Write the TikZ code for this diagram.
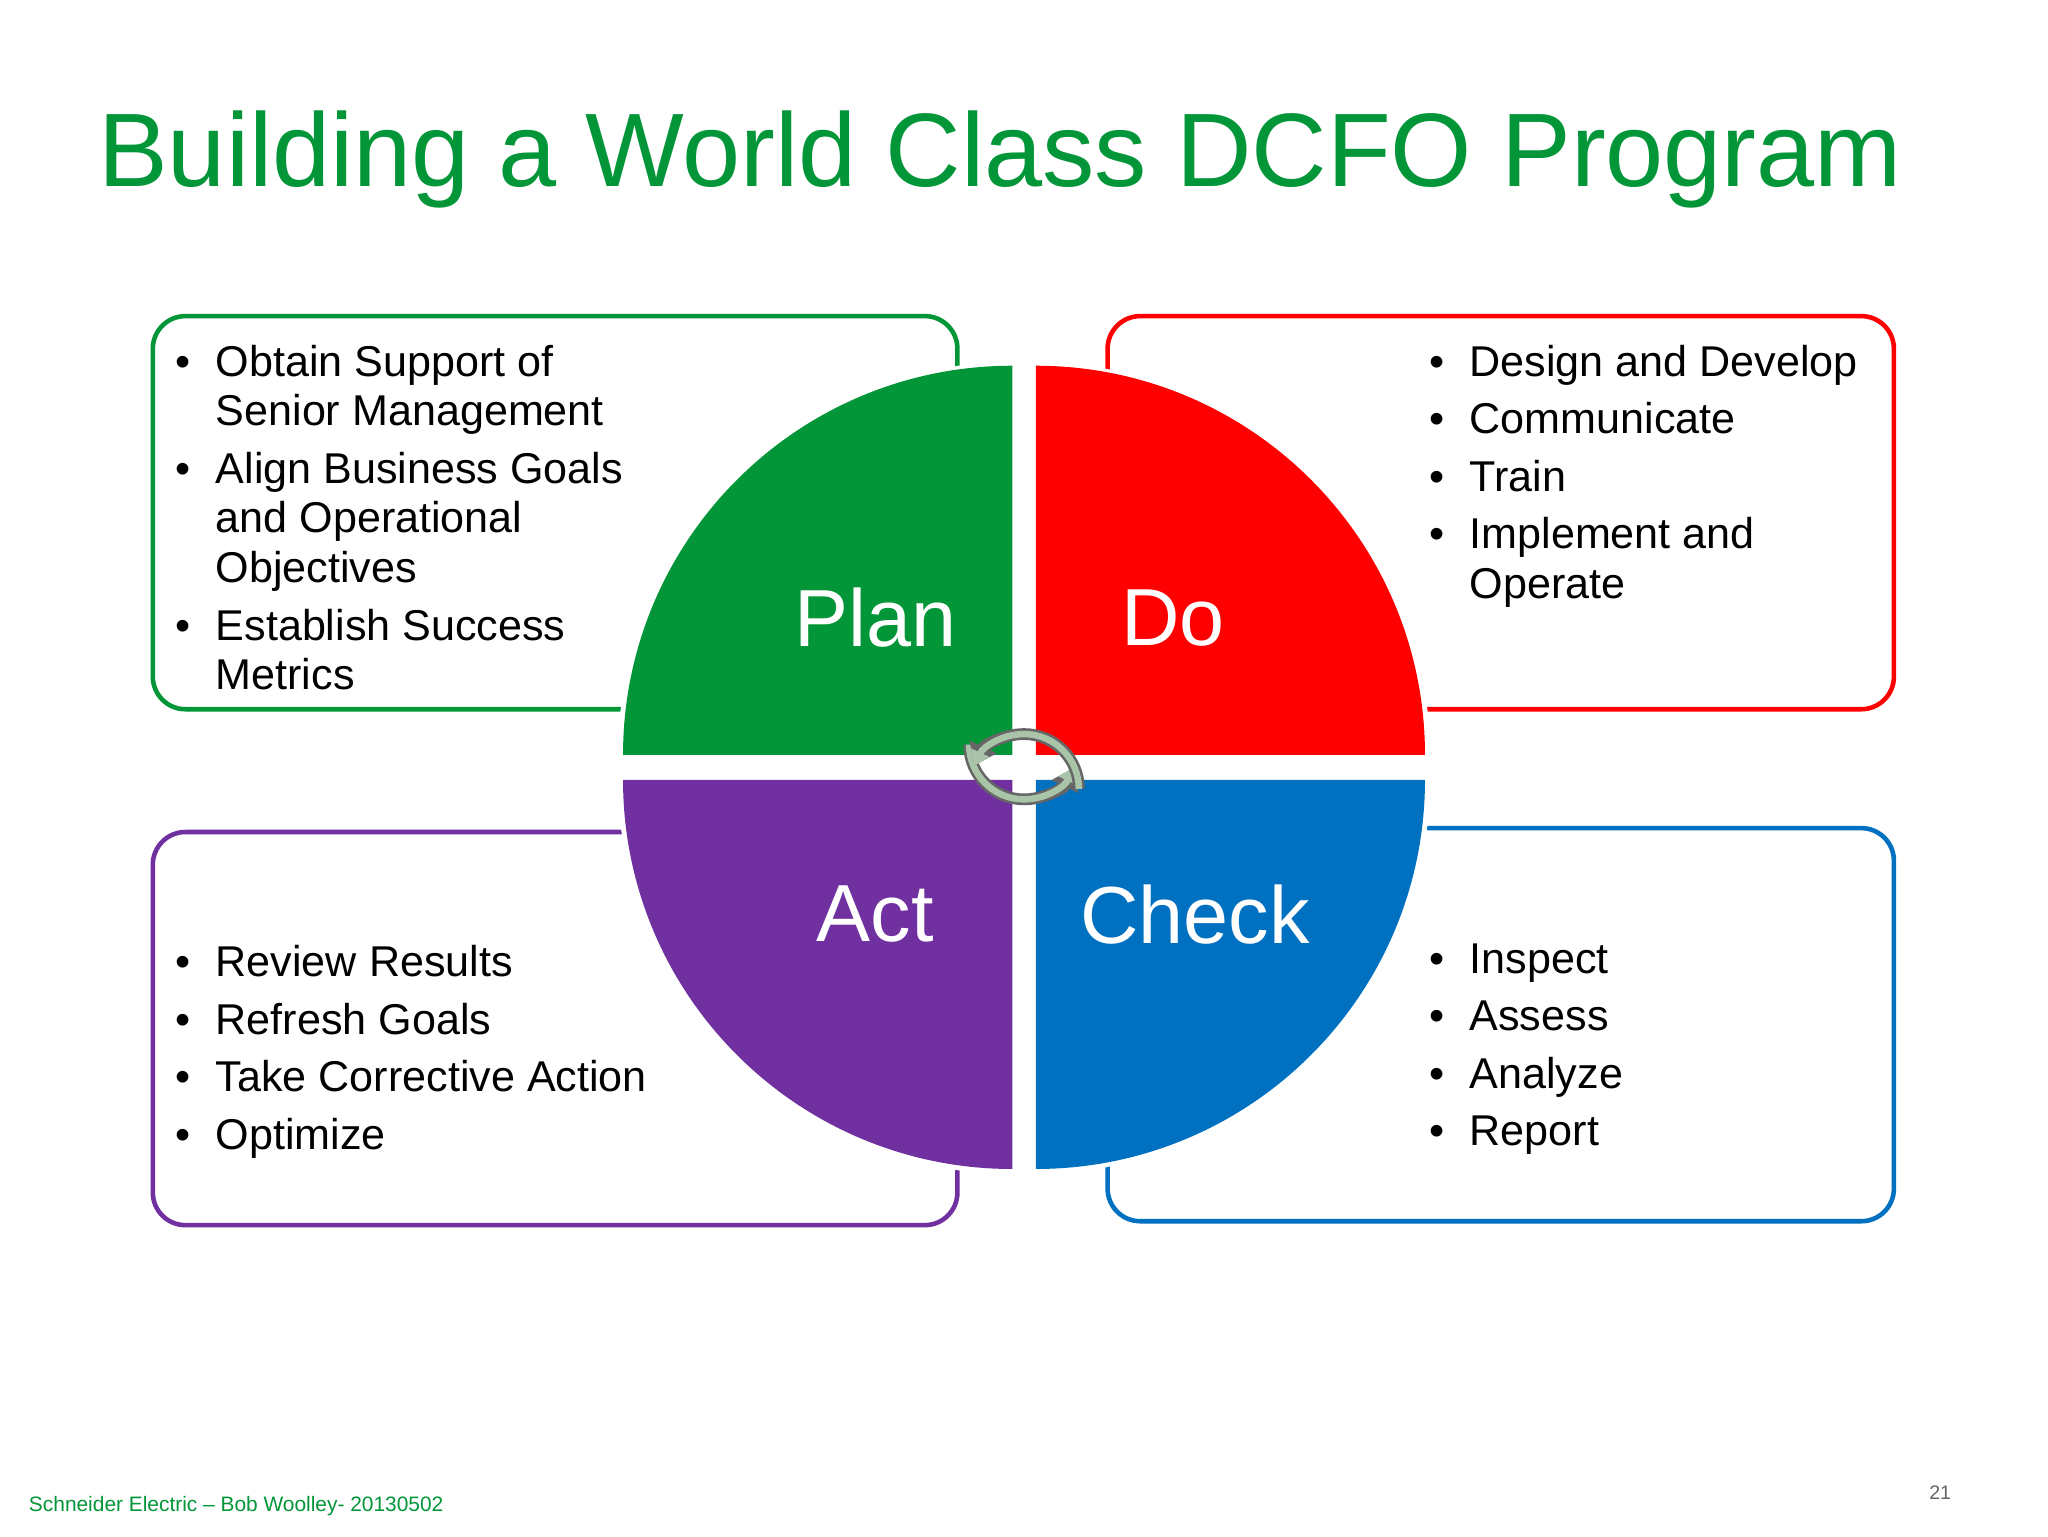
\documentclass[tikz,border=0pt]{standalone}
\usepackage{fontspec}
\setmainfont{Liberation Sans}
\usetikzlibrary{arrows.meta}
\definecolor{pgreen}{RGB}{3,150,56}
\definecolor{pred}{RGB}{255,0,0}
\definecolor{ppurple}{RGB}{112,48,160}
\definecolor{pblue}{RGB}{0,112,192}
\definecolor{arrfill}{RGB}{170,196,170}
\begin{document}
\begin{tikzpicture}[x=1pt,y=-1pt,
  box/.style={line width=3.5pt,rounded corners=25pt},
  quad/.style={draw=none},
  lbl/.style={text=white,font=\fontsize{62}{62}\selectfont,anchor=center},
  bl/.style={anchor=base west,inner sep=0pt,font=\fontsize{33}{38}\selectfont},
  rarrow/.style={line width=9pt,draw=black!60,-{Triangle[length=16pt,width=22pt]}},
  rarrowin/.style={line width=5pt,draw=arrfill,-{Triangle[length=11pt,width=15pt]}}]
\useasboundingbox (0,0) rectangle (1568,1176);
\fill[white] (0,0) rectangle (1568,1176);
\node[text=pgreen,font=\fontsize{80}{80}\selectfont,anchor=base west,inner sep=0pt] (title) at (75,143) {Building a World Class DCFO Program};
% boxes
\draw[box,draw=pgreen] (117,242) rectangle (733,543);
\draw[box,draw=pred] (848,242) rectangle (1450,543);
\draw[box,draw=ppurple] (117,637) rectangle (733,938);
\draw[box,draw=pblue] (848,634) rectangle (1450,935);
% circle
\fill[white] (784,588) circle (312);
\fill[pgreen] (775,578) -- (477,578) arc[start angle=180,end angle=90,x radius=298,y radius=-298] -- cycle;
\fill[pred] (793,578) -- (793,280) arc[start angle=90,end angle=0,x radius=298,y radius=-298] -- cycle;
\fill[pblue] (793,597) -- (1091,597) arc[start angle=0,end angle=-90,x radius=298,y radius=-298] -- cycle;
\fill[ppurple] (775,597) -- (775,895) arc[start angle=-90,end angle=-180,x radius=298,y radius=-298] -- cycle;
\node[lbl] (plan) at (670,473) {Plan};
\node[lbl] (do) at (898,473) {Do};
\node[lbl] (act) at (670,700) {Act};
\node[lbl] (check) at (915,700) {Check};
% cycle arrows
\coordinate (a1) at (742,570);
\coordinate (a2) at (830,571);
\coordinate (b1) at (826,604);
\coordinate (b2) at (737,606);
\draw[rarrow] (a1) arc[start angle=180,end angle=25,radius=42];
\draw[rarrowin] (a1) arc[start angle=180,end angle=25,radius=42];
\draw[rarrow] (b1) arc[start angle=0,end angle=-155,radius=42];
\draw[rarrowin] (b1) arc[start angle=0,end angle=-155,radius=42];
% plan text
\foreach \y/\t/\b in {288/Obtain Support of/1,326/Senior Management/0,370/Align Business Goals/1,408/and Operational/0,446/Objectives/0,490/Establish Success/1,528/Metrics/0}{
  \node[bl] at (165,\y) {\t};
  \ifnum\b=1 \node[bl] at (134,\y) {•};\fi
}
\foreach \y/\t/\b in {288/Design and Develop/1,332/Communicate/1,376/Train/1,420/Implement and/1,458/Operate/0}{
  \node[bl] at (1125,\y) {\t};
  \ifnum\b=1 \node[bl] at (1094,\y) {•};\fi
}
\foreach \y/\t in {745/Inspect,789/Assess,833/Analyze,877/Report}{
  \node[bl] at (1125,\y) {\t};
  \node[bl] at (1094,\y) {•};
}
\foreach \y/\t in {748/Review Results,792/Refresh Goals,836/Take Corrective Action,880/Optimize}{
  \node[bl] at (165,\y) {\t};
  \node[bl] at (134,\y) {•};
}
\node[anchor=base west,inner sep=0pt,text=pgreen,font=\fontsize{16}{16}\selectfont] (foot) at (22,1157) {Schneider Electric – Bob Woolley- 20130502};
\node[anchor=base east,inner sep=0pt,text=black!60,font=\fontsize{15}{15}\selectfont] (pg) at (1494,1148) {21};
\end{tikzpicture}
\end{document}
